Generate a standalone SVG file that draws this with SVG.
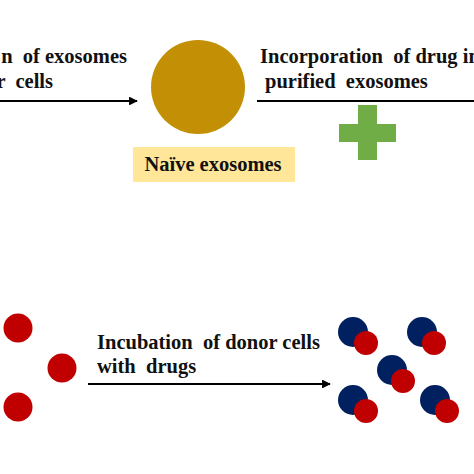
<svg xmlns="http://www.w3.org/2000/svg" width="474" height="474" viewBox="0 0 474 474">
<defs>
<style>
.t{font-family:"Liberation Serif","Times New Roman",serif;font-weight:bold;font-size:20.5px;fill:#111;white-space:pre}
.ln{stroke:#000;stroke-width:2.2;fill:none}
.red{fill:#C00000}
.blue{fill:#002060}
</style>
<marker id="ah" viewBox="0 0 10 10" refX="9" refY="5" markerWidth="4" markerHeight="4" orient="auto" markerUnits="strokeWidth">
<path d="M0,0 L10,5 L0,10 Z" fill="#000"/>
</marker>
</defs>
<rect width="474" height="474" fill="#fff"/>
<g id="connectors">
<line class="ln" x1="0" y1="101" x2="137" y2="101" marker-end="url(#ah)"/>
<line class="ln" x1="257" y1="101" x2="474" y2="101"/>
<line class="ln" x1="88" y1="384" x2="330" y2="384" marker-end="url(#ah)"/>
</g>
<g id="label-isolation">
<text class="t" x="127" y="63" text-anchor="end">n  of exosomes</text>
<text class="t" x="53" y="88" text-anchor="end">r  cells</text>
</g>
<g id="naive-exosome">
<circle cx="198" cy="87" r="47" fill="#C39005"/>
</g>
<g id="naive-label">
<rect x="133" y="147" width="162" height="35" fill="#FFE699"/>
<text class="t" x="213" y="171" text-anchor="middle">Naïve exosomes</text>
</g>
<g id="label-incorporation">
<text class="t" x="260" y="63">Incorporation  of drug in</text>
<text class="t" x="265" y="88">purified  exosomes</text>
</g>
<g id="plus">
<rect x="339" y="124" width="57" height="18" fill="#70AD47"/>
<rect x="358" y="105" width="19" height="55" fill="#70AD47"/>
</g>
<g id="donor-cells">
<circle class="red" cx="18" cy="328" r="14.5"/>
<circle class="red" cx="62" cy="368" r="14.5"/>
<circle class="red" cx="18" cy="407" r="14.5"/>
</g>
<g id="label-incubation">
<text class="t" x="97" y="349">Incubation  of donor cells</text>
<text class="t" x="97" y="373">with  drugs</text>
</g>
<g id="loaded-exosomes">
<circle class="blue" cx="353" cy="332" r="15"/><circle class="red" cx="366" cy="343" r="12"/>
<circle class="blue" cx="422" cy="332" r="15"/><circle class="red" cx="434" cy="343" r="12"/>
<circle class="blue" cx="392" cy="370" r="15"/><circle class="red" cx="403" cy="381" r="12"/>
<circle class="blue" cx="353" cy="400" r="15"/><circle class="red" cx="366" cy="411" r="12"/>
<circle class="blue" cx="435" cy="400" r="15"/><circle class="red" cx="447" cy="411" r="12"/>
</g>
</svg>
